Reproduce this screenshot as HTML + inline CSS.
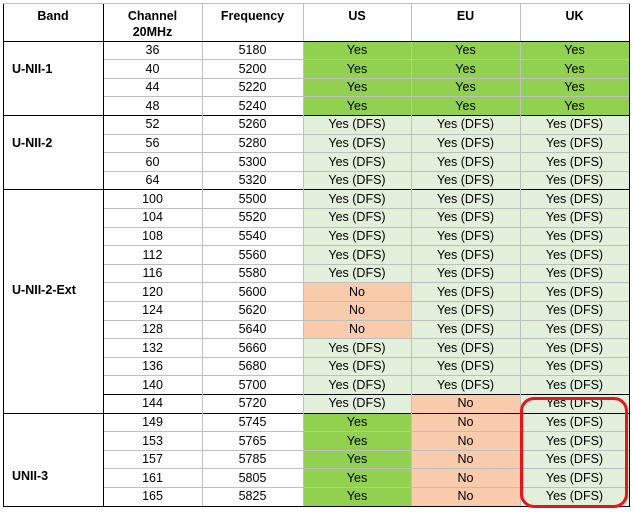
<!DOCTYPE html>
<html><head><meta charset="utf-8"><style>
body{margin:0;background:#fff;width:633px;height:513px;overflow:hidden;position:relative;font-family:"Liberation Sans",sans-serif;font-size:12.5px;color:#000}
.c{position:absolute;box-sizing:border-box;text-align:center;line-height:18.6px}
.l{position:absolute;background:#000}
.g{position:absolute;background:#bfbfbf}
.h{position:absolute;font-weight:bold;text-align:center;font-size:12.5px}
.b{position:absolute;font-weight:bold;left:12px;font-size:12.5px}
</style></head><body>
<div class="h" style="left:3px;width:100px;top:9px">Band</div>
<div class="h" style="left:103px;width:99px;top:9px">Channel</div>
<div class="h" style="left:103px;width:99px;top:25px">20MHz</div>
<div class="h" style="left:202px;width:101px;top:9px">Frequency</div>
<div class="h" style="left:303px;width:108px;top:9px">US</div>
<div class="h" style="left:411px;width:109px;top:9px">EU</div>
<div class="h" style="left:520px;width:109px;top:9px">UK</div>
<div id="t"></div>
<div class="b" style="top:62px">U-NII-1</div>
<div class="b" style="top:136px">U-NII-2</div>
<div class="b" style="top:283px">U-NII-2-Ext</div>
<div class="b" style="top:469px">UNII-3</div>
<div style="position:absolute;left:520px;top:397px;width:108px;height:111px;border:3px solid #e8141c;border-radius:14px;box-sizing:border-box"></div>
<script>
var ch=[36,40,44,48,52,56,60,64,100,104,108,112,116,120,124,128,132,136,140,144,149,153,157,161,165];
var fr=[5180,5200,5220,5240,5260,5280,5300,5320,5500,5520,5540,5560,5580,5600,5620,5640,5660,5680,5700,5720,5745,5765,5785,5805,5825];
var G='#92d050',L='#e2efda',O='#f8cbad';
var h='';
function cell(x,w,y,bg,t){h+='<div class="c" style="left:'+x+'px;width:'+w+'px;top:'+y+'px;height:18.6px;background:'+bg+'">'+t+'</div>';}
for(var i=0;i<25;i++){
 var y=41+i*18.6;
 cell(103,99,y,'#fff',ch[i]);cell(202,101,y,'#fff',fr[i]);
 var us,eu,uk;
 if(i<4){us=eu=uk=[G,'Yes'];}
 else if(i<20){us=(i>=13&&i<=15)?[O,'No']:[L,'Yes (DFS)'];eu=uk=[L,'Yes (DFS)'];if(i==19)eu=[O,'No'];}
 else{us=[G,'Yes'];eu=[O,'No'];uk=[L,'Yes (DFS)'];}
 cell(303,108,y,us[0],us[1]);cell(411,109,y,eu[0],eu[1]);cell(520,109,y,uk[0],uk[1]);
 if(i>0){var blk=(i==4||i==8||i==20);var x0=blk?3:103;
  if(i==19){h+='<div class="l" style="left:103px;width:526px;top:'+(y-0.5)+'px;height:1px"></div>';}
  else h+='<div class="'+(blk?'l':'g')+'" style="left:'+x0+'px;width:'+(629-x0)+'px;top:'+(y-0.5)+'px;height:1px"></div>';}
}
[202,303,411,520].forEach(function(x){h+='<div class="g" style="left:'+x+'px;top:3px;width:1px;height:504px"></div>';});
[3,103,629].forEach(function(x){h+='<div class="l" style="left:'+x+'px;top:3px;width:1px;height:504px"></div>';});
h+='<div class="l" style="left:3px;width:627px;top:40.5px;height:1px"></div>';
h+='<div class="l" style="left:3px;width:627px;top:506px;height:1px"></div>';
h+='<div class="g" style="left:3px;width:627px;top:3px;height:1px"></div>';
document.getElementById('t').innerHTML=h;
</script>
</body></html>
